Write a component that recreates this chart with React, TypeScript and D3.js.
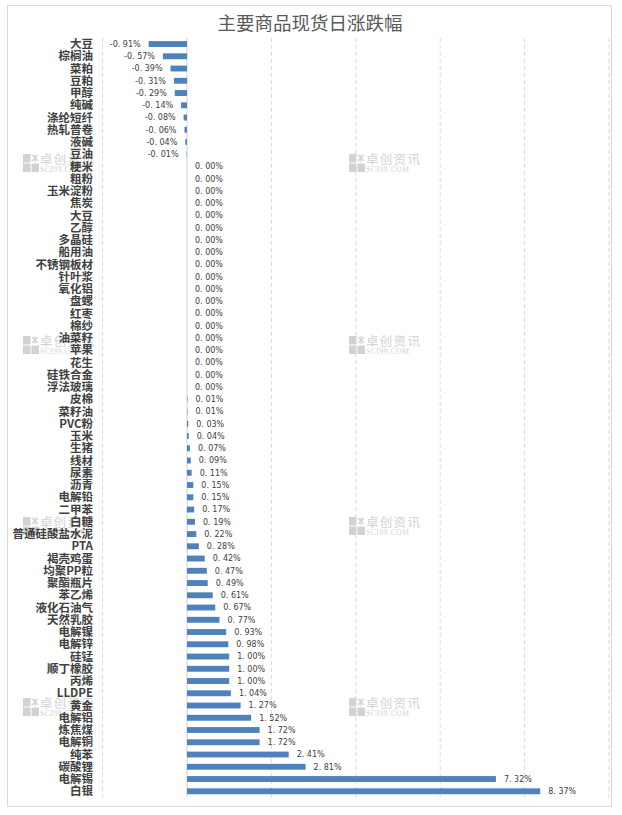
import React from "react";
import * as d3 from "d3";

const categories: string[] = [
  "大豆", "棕榈油", "菜粕", "豆粕", "甲醇", "纯碱", "涤纶短纤", "热轧普卷", "液碱", "豆油",
  "粳米", "粗粉", "玉米淀粉", "焦炭", "大豆", "乙醇", "多晶硅", "船用油", "不锈钢板材", "针叶浆",
  "氧化铝", "盘螺", "红枣", "棉纱", "油菜籽", "苹果", "花生", "硅铁合金", "浮法玻璃", "皮棉",
  "菜籽油", "PVC粉", "玉米", "生猪", "线材", "尿素", "沥青", "电解铅", "二甲苯", "白糖",
  "普通硅酸盐水泥", "PTA", "褐壳鸡蛋", "均聚PP粒", "聚酯瓶片", "苯乙烯", "液化石油气", "天然乳胶", "电解镍", "电解锌",
  "硅锰", "顺丁橡胶", "丙烯", "LLDPE", "黄金", "电解铝", "炼焦煤", "电解铜", "纯苯", "碳酸锂",
  "电解锡", "白银",
];

const values: number[] = [
  -0.91, -0.57, -0.39, -0.31, -0.29, -0.14, -0.08, -0.06, -0.04, -0.01,
  0, 0, 0, 0, 0, 0, 0, 0, 0, 0,
  0, 0, 0, 0, 0, 0, 0, 0, 0, 0.01,
  0.01, 0.03, 0.04, 0.07, 0.09, 0.11, 0.15, 0.15, 0.17, 0.19,
  0.22, 0.28, 0.42, 0.47, 0.49, 0.61, 0.67, 0.77, 0.93, 0.98,
  1.0, 1.0, 1.0, 1.04, 1.27, 1.52, 1.72, 1.72, 2.41, 2.81,
  7.32, 8.37,
];

const xTicks: number[] = [-2, 0, 2, 4, 6, 8, 10];
const title = "主要商品现货日涨跌幅";
const watermarkMain = "卓创资讯";
const watermarkSub = "SCI99.COM";

const W = 622;
const H = 815;
const left = 102.6;
const right = 609;
const top = 37.9;
const bottom = 797.4;

function fmt(v: number): string {
  const s = Math.abs(v).toFixed(2).replace(".", ". ");
  return (v < 0 ? "-" : "") + s + "%";
}

function Watermark({ x, y }: { x: number; y: number }) {
  const c = "#d2d2d2";
  return (
    <g>
      <rect x={x} y={y} width={7.5} height={8.5} fill={c} />
      <rect x={x} y={y + 9.5} width={7.5} height={8.5} fill={c} />
      <rect x={x + 8.5} y={y + 9.5} width={7.5} height={8.5} fill={c} />
      <g stroke={c} strokeWidth={1.2}>
        <line x1={x + 9} y1={y + 1} x2={x + 15} y2={y + 7} />
        <line x1={x + 15} y1={y + 1} x2={x + 9} y2={y + 7} />
        <line x1={x + 12} y1={y + 0.5} x2={x + 12} y2={y + 8} />
      </g>
      <text
        x={x + 17}
        y={y + 10}
        fontSize={12.5}
        fill={c}
        fontFamily="'Noto Sans CJK SC', sans-serif"
        letterSpacing={1.3}
      >
        {watermarkMain}
      </text>
      <text
        x={x + 17}
        y={y + 17.5}
        fontSize={7.5}
        fill={c}
        fontFamily="'Liberation Serif', serif"
        letterSpacing={0.6}
      >
        {watermarkSub}
      </text>
    </g>
  );
}

export default function App() {
  const x = d3.scaleLinear().domain([-2, 10]).range([left, right]);
  const y = d3
    .scaleBand<number>()
    .domain(d3.range(categories.length))
    .range([top, bottom])
    .paddingInner(0.52)
    .paddingOuter(0.26);
  const step = y.step();
  const bw = y.bandwidth();
  const wmY = [154, 336, 517, 698];
  const wmX = [23, 349];

  return (
    <svg
      width={W}
      height={H}
      style={{ position: "absolute", left: 0, top: 0, background: "#fff" }}
    >
      <rect x={0} y={0} width={W} height={H} fill="#fff" />
      <rect x={7.5} y={5.5} width={604} height={801} fill="none" stroke="#d9d9d9" strokeWidth={1} />
      <text
        x={310}
        y={30}
        textAnchor="middle"
        fontSize={18.5}
        fill="#595959"
        fontFamily="'Noto Sans CJK SC', sans-serif"
      >
        {title}
      </text>
      {wmY.map((wy) =>
        wmX.map((wx) => <Watermark key={`${wx}-${wy}`} x={wx} y={wy} />)
      )}
      {xTicks.map((t) => (
        <line
          key={t}
          x1={x(t)}
          x2={x(t)}
          y1={top}
          y2={bottom}
          stroke={t === 0 ? "#d0d0d0" : "#d9d9d9"}
          strokeWidth={1}
          strokeDasharray={t === 0 ? undefined : "4,3"}
        />
      ))}
      {values.map((v, i) => {
        const yc = (y(i) as number) + bw / 2;
        const x0 = x(Math.min(0, v));
        const x1 = x(Math.max(0, v));
        return (
          <g key={i}>
            <rect x={x0} y={yc - bw / 2} width={Math.max(0, x1 - x0)} height={bw} fill="#4f81bd" />
            <text
              x={v < 0 ? x(v) - 8 : x(v) + 8}
              y={yc}
              dy="0.35em"
              textAnchor={v < 0 ? "end" : "start"}
              fontSize={8}
              fill="#404040"
              fontFamily="'DejaVu Sans', sans-serif"
            >
              {fmt(v)}
            </text>
          </g>
        );
      })}
      {categories.map((c, i) => {
        const yc = top + step * i + step / 2;
        return (
          <text
            key={i}
            x={93}
            y={yc}
            dy="0.36em"
            textAnchor="end"
            fontSize={11.5}
            fontWeight="bold"
            fill="#404040"
            fontFamily="'Noto Sans CJK SC', sans-serif"
          >
            {c}
          </text>
        );
      })}
    </svg>
  );
}
